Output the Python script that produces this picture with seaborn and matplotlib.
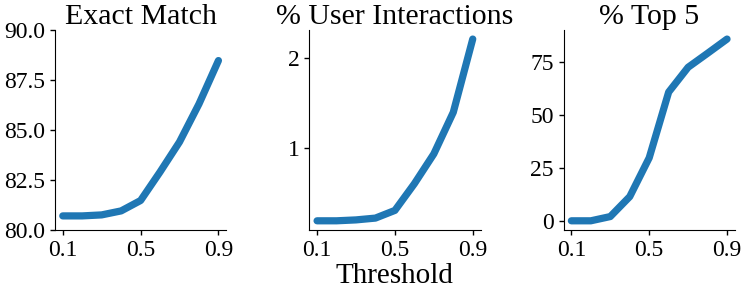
import seaborn as sns
import matplotlib.pyplot as plt
import pandas as pd

# Data
thresholds = [0.1, 0.2, 0.3, 0.4, 0.5, 0.6, 0.7, 0.8, 0.9]
exact_match = [80.7, 80.7, 80.75, 80.95, 81.47, 82.9, 84.4, 86.3, 88.47]
user_interactions = [0.2, 0.2, 0.21, 0.23, 0.315, 0.61, 0.94, 1.40, 2.21]
top5 = [0.0, 0.0, 2.0, 11.4, 29.7, 60.7, 72.4, 79.0, 85.7]

titles = ['Exact Match', '% User Interactions', '% Top 5']
yticks = [[80.0, 82.5, 85.0, 87.5, 90.0], [1, 2], [0, 25, 50, 75]]

df = pd.DataFrame({
    'Threshold': thresholds * 3,
    'value': exact_match + user_interactions + top5,
    'metric': [titles[0]] * 9 + [titles[1]] * 9 + [titles[2]] * 9,
})

sns.set_style("ticks", {'axes.edgecolor': 'black', 'text.color': 'black',
                        'xtick.color': 'black', 'ytick.color': 'black',
                        'axes.labelcolor': 'black'})
plt.rcParams['font.family'] = ['Liberation Serif', 'DejaVu Serif']

fig, axes = plt.subplots(1, 3, figsize=(7.43, 2.91), dpi=100)
plt.subplots_adjust(left=0.074, right=0.989, bottom=0.21, top=0.897, wspace=0.485)

for i, ax in enumerate(axes):
    sub = df[df['metric'] == titles[i]]
    sns.lineplot(data=sub, x='Threshold', y='value', ax=ax, color='#1f77b4', linewidth=5.2)
    ax.set_title(titles[i], fontsize=21.5, pad=4)
    ax.set_xticks([0.1, 0.5, 0.9])
    ax.set_xticklabels(['0.1', '0.5', '0.9'])
    ax.set_yticks(yticks[i])
    ax.tick_params(labelsize=17, width=1)
    ax.set_ylabel('')
    ax.set_xlabel('')

axes[0].set_ylim(80, 90)
axes[0].set_yticklabels(['80.0', '82.5', '85.0', '87.5', '90.0'])
axes[1].set_xlabel('Threshold', fontsize=21, labelpad=2)

sns.despine()
plt.savefig('out.png', dpi=100)
